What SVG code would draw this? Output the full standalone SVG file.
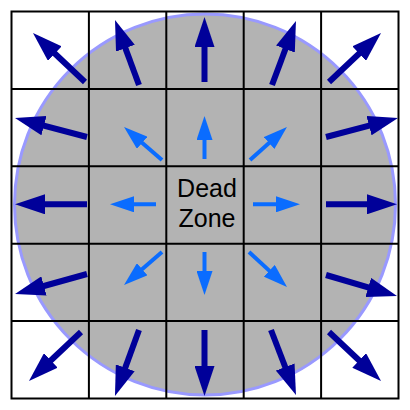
<svg xmlns="http://www.w3.org/2000/svg" width="410" height="410" viewBox="0 0 410 410">
  <style>
    .grid { stroke: #000; stroke-width: 2; fill: none; }
    .outer { stroke: #000099; stroke-width: 6; fill: none; marker-end: url(#headOuter); }
    .inner { stroke: #0a6cff; stroke-width: 4; fill: none; marker-end: url(#headInner); }
    .label { font-family: "Liberation Sans", Arial, sans-serif; font-size: 25px; fill: #000; text-anchor: middle; }
  </style>
  <defs>
    <marker id="headOuter" markerUnits="userSpaceOnUse" viewBox="0 0 30 20" markerWidth="30" markerHeight="20" refX="15" refY="10" orient="auto">
      <path d="M0,0 L30,10 L0,20 Z" fill="#000099"/>
    </marker>
    <marker id="headInner" markerUnits="userSpaceOnUse" viewBox="0 0 24 16" markerWidth="24" markerHeight="16" refX="12" refY="8" orient="auto">
      <path d="M0,0 L24,8 L0,16 Z" fill="#0a6cff"/>
    </marker>
  </defs>
  <rect x="0" y="0" width="410" height="410" fill="#fff"/>
  <g id="zone">
    <circle cx="205" cy="204.5" r="190.5" fill="#b3b3b3" stroke="#9999ff" stroke-width="3"/>
  </g>
  <g id="grid" class="grid">
    <rect x="11.5" y="11.5" width="387" height="387"/>
    <line x1="88.9" y1="11.5" x2="88.9" y2="398.5"/>
    <line x1="166.3" y1="11.5" x2="166.3" y2="398.5"/>
    <line x1="243.7" y1="11.5" x2="243.7" y2="398.5"/>
    <line x1="321.1" y1="11.5" x2="321.1" y2="398.5"/>
    <line x1="11.5" y1="88.9" x2="398.5" y2="88.9"/>
    <line x1="11.5" y1="166.3" x2="398.5" y2="166.3"/>
    <line x1="11.5" y1="243.7" x2="398.5" y2="243.7"/>
    <line x1="11.5" y1="321.1" x2="398.5" y2="321.1"/>
  </g>
  <g id="connectors">
    <line class="outer" x1="85" y1="82" x2="43.9" y2="43.3"/>
    <line class="outer" x1="139" y1="85" x2="120.2" y2="34.1"/>
    <line class="outer" x1="204.5" y1="82" x2="204.5" y2="32"/>
    <line class="outer" x1="272" y1="85" x2="290.7" y2="35"/>
    <line class="outer" x1="329" y1="82" x2="370.1" y2="43.3"/>
    <line class="outer" x1="87" y1="137" x2="29.5" y2="121.8"/>
    <line class="outer" x1="326" y1="137" x2="383.5" y2="121.8"/>
    <line class="outer" x1="87" y1="204.3" x2="30" y2="204.3"/>
    <line class="outer" x1="326" y1="204.3" x2="382" y2="204.3"/>
    <line class="outer" x1="87" y1="274" x2="29.5" y2="290"/>
    <line class="outer" x1="326" y1="275" x2="382.6" y2="291.7"/>
    <line class="outer" x1="81" y1="332" x2="39.9" y2="370.7"/>
    <line class="outer" x1="139" y1="330" x2="120.1" y2="381.9"/>
    <line class="outer" x1="204.5" y1="330" x2="204.5" y2="381"/>
    <line class="outer" x1="271" y1="330" x2="290.6" y2="381"/>
    <line class="outer" x1="329" y1="332" x2="370.1" y2="370.7"/>
    <line class="inner" x1="162" y1="160" x2="133.1" y2="134.9"/>
    <line class="inner" x1="204.5" y1="159" x2="204.5" y2="128"/>
    <line class="inner" x1="250" y1="160" x2="278" y2="135"/>
    <line class="inner" x1="156" y1="204.3" x2="122" y2="204.3"/>
    <line class="inner" x1="253" y1="204.3" x2="288" y2="204.3"/>
    <line class="inner" x1="162" y1="252" x2="133.1" y2="277.1"/>
    <line class="inner" x1="204.5" y1="252" x2="204.5" y2="283"/>
    <line class="inner" x1="249" y1="252" x2="278.2" y2="278.9"/>
  </g>
  <g id="deadzone">
    <text class="label" x="207" y="196.5">Dead</text>
    <text class="label" x="207" y="227">Zone</text>
  </g>
</svg>
